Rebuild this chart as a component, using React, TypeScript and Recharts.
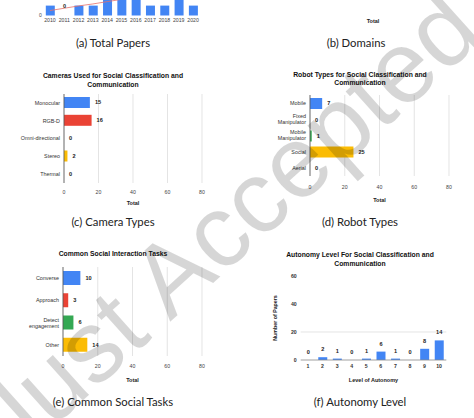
import {
  BarChart,
  Bar,
  ComposedChart,
  Line,
  XAxis,
  YAxis,
  CartesianGrid,
  Cell,
  LabelList,
  Label,
  ReferenceLine,
} from "recharts";

// (a) total papers per year
const years = ["2010", "2011", "2012", "2013", "2014", "2015", "2016", "2017", "2018", "2019", "2020"];
const papersPerYear = [3, 0, 3, 3, 6, 8, 7, 3, 3, 8, 3];
const papersTrend = [1.5, 2.2, 2.9, 3.5, 4.2, 4.9, 5.6, 6.3, 6.9, 7.6, 8.3];

// (c) camera types
const cameraTypes = ["Monocular", "RGB-D", "Omni-directional", "Stereo", "Thermal"];
const cameraCounts = [15, 16, 0, 2, 0];

// (d) robot types
const robotTypes = ["Mobile", "Fixed Manipulator", "Mobile Manipulator", "Social", "Aerial"];
const robotCounts = [7, 0, 1, 25, 0];

// (e) social tasks
const socialTasks = ["Converse", "Approach", "Detect engagement", "Other"];
const taskCounts = [10, 3, 6, 14];

// (f) autonomy level
const autonomyLevels = ["1", "2", "3", "4", "5", "6", "7", "8", "9", "10"];
const autonomyCounts = [0, 2, 1, 0, 1, 6, 1, 0, 8, 14];

const totalTicks = [0, 20, 40, 60, 80];
const autonomyTicks = [0, 20, 40, 60];
const palette = ["#4285F4", "#EA4335", "#34A853", "#FBBC04", "#FF6D01"];

const chartFont = "'Liberation Sans', Arial, sans-serif";
const captionFont = "Lato, 'Open Sans', sans-serif";

function CategoryTick(props: any) {
  const { x, y, payload } = props;
  const words = String(payload.value).split(" ");
  const lh = 6;
  const first = -((words.length - 1) * lh) / 2;
  return (
    <text x={x} y={y + 1.9 + first} textAnchor="end" fontSize={5.4} fill="#333" fontFamily={chartFont}>
      {words.map((w, i) => (
        <tspan key={i} x={x} dy={i === 0 ? 0 : lh}>
          {w}
        </tspan>
      ))}
    </text>
  );
}

function Title({ cx, top, lh, lines }: { cx: number; top: number; lh: number; lines: string[] }) {
  return (
    <div
      style={{
        position: "absolute",
        left: cx - 120,
        top,
        width: 240,
        textAlign: "center",
        fontFamily: chartFont,
        fontWeight: 700,
        fontSize: 6.8,
        lineHeight: `${lh}px`,
        color: "#111",
      }}
    >
      {lines.map((l) => (
        <div key={l}>{l}</div>
      ))}
    </div>
  );
}

function Caption({ cx, cy, text }: { cx: number; cy: number; text: string }) {
  return (
    <div
      style={{
        position: "absolute",
        left: cx - 100,
        top: cy - 8,
        width: 200,
        height: 16,
        lineHeight: "16px",
        textAlign: "center",
        fontFamily: captionFont,
        fontSize: 11.3,
        color: "#222",
      }}
    >
      {text}
    </div>
  );
}

type HProps = {
  left: number;
  top: number;
  width: number;
  height: number;
  categories: string[];
  values: number[];
  marginTop: number;
  marginRight: number;
  axisWidth: number;
  xAxisHeight: number;
  tickMargin: number;
  totalOffset: number;
  barSize: number;
};

function HorizontalBars(p: HProps) {
  const data = p.categories.map((name, i) => ({ name, value: p.values[i] }));
  return (
    <div style={{ position: "absolute", left: p.left, top: p.top }}>
      <BarChart
        width={p.width}
        height={p.height}
        data={data}
        layout="vertical"
        margin={{ top: p.marginTop, right: p.marginRight, bottom: 0, left: 0 }}
      >
        <CartesianGrid horizontal={false} stroke="#d9d9d9" strokeWidth={0.7} />
        <XAxis
          type="number"
          domain={[0, 80]}
          ticks={totalTicks}
          interval={0}
          axisLine={false}
          tickLine={false}
          tickSize={0}
          tickMargin={p.tickMargin}
          height={p.xAxisHeight}
          tick={{ fontSize: 5.2, fill: "#444", fontFamily: chartFont }}
        >
          <Label
            value="Total"
            position="insideBottom"
            offset={p.totalOffset}
            fontSize={5.5}
            fontWeight={700}
            fill="#222"
            fontFamily={chartFont}
          />
        </XAxis>
        <YAxis
          type="category"
          dataKey="name"
          width={p.axisWidth}
          interval={0}
          axisLine={{ stroke: "#555", strokeWidth: 0.8 }}
          tickLine={false}
          tickSize={0}
          tickMargin={4}
          tick={<CategoryTick />}
        />
        <Bar dataKey="value" barSize={p.barSize} minPointSize={0.01} isAnimationActive={false}>
          {data.map((d, i) => (
            <Cell key={d.name} fill={palette[i]} />
          ))}
          <LabelList
            dataKey="value"
            position="right"
            offset={5}
            fontSize={5.6}
            fontWeight={700}
            fill="#222"
            fontFamily={chartFont}
          />
        </Bar>
      </BarChart>
    </div>
  );
}

function YAxisTitle(props: any) {
  const vb = props.viewBox;
  const x = vb.x + 38;
  const y = vb.y + vb.height / 2;
  return (
    <text
      x={x}
      y={y}
      transform={`rotate(-90 ${x} ${y})`}
      textAnchor="middle"
      dominantBaseline="central"
      fontSize={5.3}
      fontWeight={700}
      fill="#222"
      fontFamily={chartFont}
    >
      Number of Papers
    </text>
  );
}

export default function App() {
  const paperData = years.map((year, i) => ({ year, papers: papersPerYear[i], trend: papersTrend[i] }));
  const autonomyData = autonomyLevels.map((level, i) => ({ level, papers: autonomyCounts[i] }));

  return (
    <div
      style={{
        position: "absolute",
        left: 0,
        top: 0,
        width: 474,
        height: 418,
        overflow: "hidden",
        background: "#fff",
      }}
    >
      {/* (a) Total Papers - top cropped */}
      <div style={{ position: "absolute", left: 0, top: -100 }}>
        <ComposedChart width={237} height={125} data={paperData} margin={{ top: 16.5, right: 36.8, bottom: 0, left: 0 }}>
          <XAxis
            dataKey="year"
            interval={0}
            height={9.5}
            axisLine={false}
            tickLine={false}
            tickSize={0}
            tickMargin={3}
            tick={{ fontSize: 5.2, fill: "#444", fontFamily: chartFont }}
          />
          <YAxis
            domain={[0, 30]}
            ticks={[0]}
            width={42.8}
            axisLine={false}
            tickLine={false}
            tickSize={0}
            tickMargin={1}
            tick={{ fontSize: 5, fill: "#444", fontFamily: chartFont }}
          />
          <Bar dataKey="papers" fill="#4285F4" barSize={9} minPointSize={0.01} isAnimationActive={false}>
            <LabelList
              dataKey="papers"
              position="top"
              offset={7}
              fontSize={5.5}
              fontWeight={700}
              fill="#222"
              fontFamily={chartFont}
            />
          </Bar>
          <Line
            dataKey="trend"
            stroke="#E8706A"
            strokeWidth={0.8}
            dot={false}
            isAnimationActive={false}
          />
        </ComposedChart>
      </div>
      <Caption cx={113} cy={43} text="(a) Total Papers" />

      {/* (b) Domains - only the axis is visible */}
      <div style={{ position: "absolute", left: 237, top: -60 }}>
        <BarChart width={237} height={85} data={[]} layout="vertical" margin={{ top: 0, right: 24, bottom: 0, left: 0 }}>
          <XAxis
            type="number"
            domain={[0, 80]}
            ticks={totalTicks}
            interval={0}
            axisLine={false}
            tickLine={false}
            tickSize={0}
            tickMargin={4}
            height={25}
            tick={{ fontSize: 5.2, fill: "#444", fontFamily: chartFont }}
          >
            <Label
              value="Total"
              position="insideBottom"
              offset={2}
              fontSize={5.5}
              fontWeight={700}
              fill="#222"
              fontFamily={chartFont}
            />
          </XAxis>
          <YAxis type="category" width={59} axisLine={false} tick={false} />
        </BarChart>
      </div>
      <Caption cx={356} cy={43} text="(b) Domains" />

      {/* (c) Camera types */}
      <Title cx={113} top={70.5} lh={9} lines={["Cameras Used for Social Classification and", "Communication"]} />
      <HorizontalBars
        left={0}
        top={60}
        width={237}
        height={150}
        categories={cameraTypes}
        values={cameraCounts}
        marginTop={34}
        marginRight={35}
        axisWidth={64}
        xAxisHeight={27}
        tickMargin={7}
        totalOffset={5}
        barSize={11}
      />
      <Caption cx={113} cy={222} text="(c) Camera Types" />

      {/* (d) Robot types */}
      <Title cx={360} top={71} lh={8} lines={["Robot Types for Social Classification and", "Communication"]} />
      <HorizontalBars
        left={237}
        top={60}
        width={237}
        height={150}
        categories={robotTypes}
        values={robotCounts}
        marginTop={35}
        marginRight={25}
        axisWidth={73}
        xAxisHeight={34}
        tickMargin={9}
        totalOffset={8}
        barSize={11}
      />
      <Caption cx={360} cy={222} text="(d) Robot Types" />

      {/* (e) Common social tasks */}
      <Title cx={113} top={250} lh={8} lines={["Common Social Interaction Tasks"]} />
      <HorizontalBars
        left={0}
        top={215}
        width={237}
        height={203}
        categories={socialTasks}
        values={taskCounts}
        marginTop={52}
        marginRight={35}
        axisWidth={63}
        xAxisHeight={62}
        tickMargin={8}
        totalOffset={36}
        barSize={14}
      />
      <Caption cx={113} cy={402} text="(e) Common Social Tasks" />

      {/* (f) Autonomy level */}
      <Title cx={360} top={251} lh={8.5} lines={["Autonomy Level For Social Classification and", "Communication"]} />
      <div style={{ position: "absolute", left: 237, top: 215 }}>
        <BarChart width={237} height={203} data={autonomyData} margin={{ top: 61, right: 27.7, bottom: 0, left: 0 }}>
          <ReferenceLine y={20} stroke="#d9d9d9" strokeWidth={0.7} />
          <XAxis
            dataKey="level"
            interval={0}
            height={58}
            axisLine={{ stroke: "#888", strokeWidth: 0.8 }}
            tickLine={false}
            tickSize={0}
            tickMargin={4}
            tick={{ fontSize: 5.2, fill: "#333", fontFamily: chartFont, fontWeight: 700 }}
          >
            <Label
              value="Level of Autonomy"
              position="insideBottom"
              offset={36}
              fontSize={5.5}
              fontWeight={700}
              fill="#222"
              fontFamily={chartFont}
            />
          </XAxis>
          <YAxis
            domain={[0, 60]}
            ticks={autonomyTicks}
            interval={0}
            width={63.7}
            axisLine={false}
            tickLine={false}
            tickSize={0}
            tickMargin={4}
            tick={{ fontSize: 5.2, fill: "#333", fontFamily: chartFont, fontWeight: 700 }}
            label={{ content: <YAxisTitle /> }}
          />
          <Bar dataKey="papers" fill="#4285F4" barSize={9} minPointSize={0.01} isAnimationActive={false}>
            <LabelList
              dataKey="papers"
              position="top"
              offset={6}
              fontSize={5.6}
              fontWeight={700}
              fill="#222"
              fontFamily={chartFont}
            />
          </Bar>
        </BarChart>
      </div>
      <Caption cx={360} cy={402} text="(f) Autonomy Level" />

      {/* watermark */}
      <svg width={474} height={418} style={{ position: "absolute", left: 0, top: 0, pointerEvents: "none" }}>
        <text
          x={250}
          y={250}
          transform="rotate(-42 250 250)"
          textAnchor="middle"
          fontSize={102}
          fontFamily={chartFont}
          fill="#000"
          fillOpacity={0.16}
        >
          Just Accepted
        </text>
      </svg>
    </div>
  );
}
